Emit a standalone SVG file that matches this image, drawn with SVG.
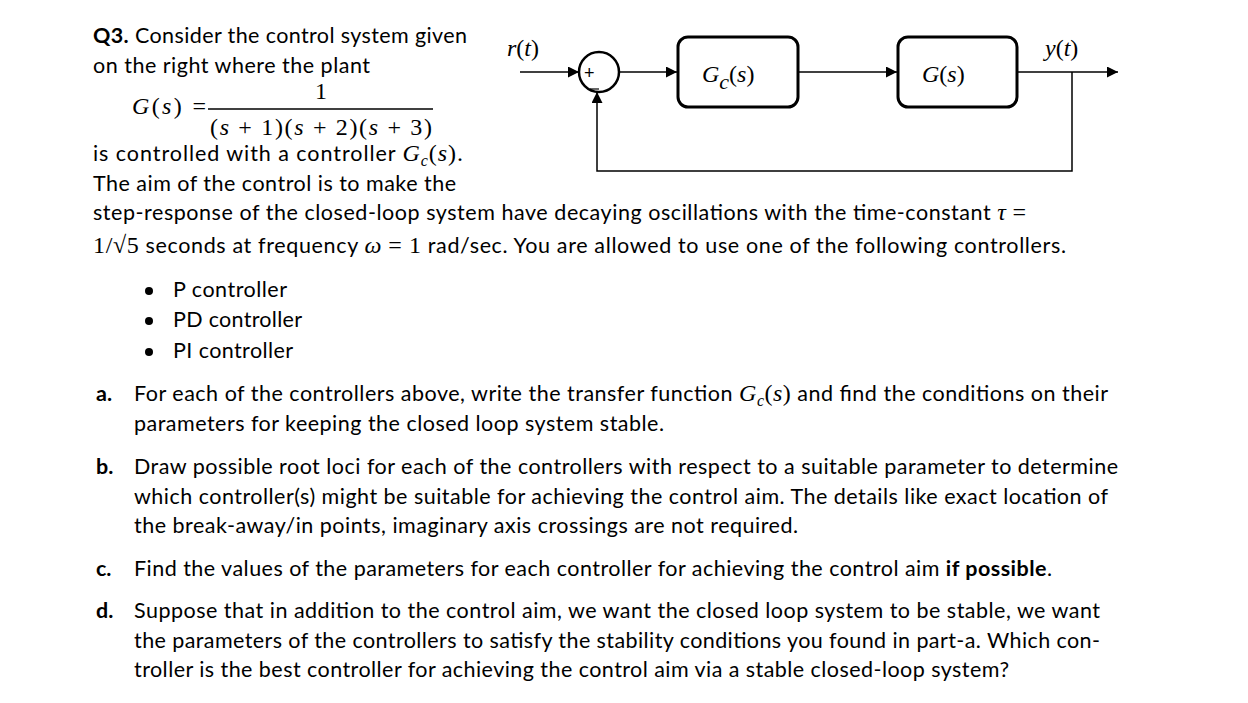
<svg xmlns="http://www.w3.org/2000/svg" width="1248" height="703" viewBox="0 0 1248 703">
<defs>
<style>
.t{font-family:Lato,"Open Sans","Liberation Sans",sans-serif;font-size:21.5px;fill:#000}
.m{font-family:"Liberation Serif","DejaVu Serif",serif;font-style:italic;font-size:24px;fill:#000}
.r{font-family:"Liberation Serif","DejaVu Serif",serif;font-size:24px;fill:#000}
.b{font-weight:bold}
.ln{stroke:#000;stroke-width:1.5;fill:none}
.box{stroke:#000;stroke-width:3;fill:#fff}
</style>
<marker id="ar" viewBox="0 0 10 10" refX="10" refY="5" markerWidth="11" markerHeight="11" markerUnits="userSpaceOnUse" orient="auto"><path d="M0,0L10,5L0,10z" fill="#000"/></marker>
</defs>
<rect width="1248" height="703" fill="#fff"/>
<g id="text">
<text class="t" x="93" y="43" textLength="374"><tspan class="b">Q3.</tspan> Consider the control system given</text>
<text class="t" x="93" y="73" textLength="277">on the right where the plant</text>
<text class="m" x="132" y="114" textLength="74">G<tspan font-style="normal">(</tspan>s<tspan font-style="normal">) =</tspan></text>
<text class="r" x="315" y="99">1</text>
<line x1="208" y1="109" x2="433" y2="109" stroke="#000" stroke-width="1.3"/>
<text class="r" x="210" y="135" textLength="222">(<tspan font-style="italic">s</tspan> + 1)(<tspan font-style="italic">s</tspan> + 2)(<tspan font-style="italic">s</tspan> + 3)</text>
<text class="t" x="93" y="161" textLength="370">is controlled with a controller <tspan class="m">G<tspan font-size="16" dy="5">c</tspan><tspan dy="-5" font-style="normal">(</tspan>s<tspan font-style="normal">).</tspan></tspan></text>
<text class="t" x="93" y="191" textLength="363">The aim of the control is to make the</text>
<text class="t" x="93" y="220" textLength="933">step-response of the closed-loop system have decaying oscillations with the time-constant <tspan class="m">τ</tspan> <tspan class="r">=</tspan></text>
<text class="t" x="93" y="253" textLength="973"><tspan class="r">1/√5</tspan> seconds at frequency <tspan class="m">ω</tspan> <tspan class="r">= 1</tspan> rad/sec. You are allowed to use one of the following controllers.</text>
<circle cx="149" cy="291" r="4"/><text class="t" x="173" y="297" textLength="114">P controller</text>
<circle cx="149" cy="321" r="4"/><text class="t" x="173" y="327" textLength="129">PD controller</text>
<circle cx="149" cy="352" r="4"/><text class="t" x="173" y="358" textLength="120">PI controller</text>
<text class="t b" x="96" y="401">a.</text>
<text class="t" x="134" y="401" textLength="974">For each of the controllers above, write the transfer function <tspan class="m">G<tspan font-size="16" dy="5">c</tspan><tspan dy="-5" font-style="normal">(</tspan>s<tspan font-style="normal">)</tspan></tspan> and find the conditions on their</text>
<text class="t" x="134" y="431" textLength="530">parameters for keeping the closed loop system stable.</text>
<text class="t b" x="96" y="474">b.</text>
<text class="t" x="134" y="474" textLength="984">Draw possible root loci for each of the controllers with respect to a suitable parameter to determine</text>
<text class="t" x="134" y="504" textLength="974">which controller(s) might be suitable for achieving the control aim. The details like exact location of</text>
<text class="t" x="134" y="533" textLength="664">the break-away/in points, imaginary axis crossings are not required.</text>
<text class="t b" x="96" y="576">c.</text>
<text class="t" x="134" y="576" textLength="918">Find the values of the parameters for each controller for achieving the control aim <tspan class="b">if possible</tspan>.</text>
<text class="t b" x="96" y="618">d.</text>
<text class="t" x="134" y="618" textLength="966">Suppose that in addition to the control aim, we want the closed loop system to be stable, we want</text>
<text class="t" x="134" y="648" textLength="966">the parameters of the controllers to satisfy the stability conditions you found in part-a. Which con-</text>
<text class="t" x="134" y="677" textLength="875">troller is the best controller for achieving the control aim via a stable closed-loop system?</text>
</g>
<g id="sum">
<circle cx="599" cy="72" r="20" fill="#fff" stroke="#000" stroke-width="2.5"/>
<text x="584" y="79" font-family="Liberation Sans,sans-serif" font-size="18">+</text>
<line x1="590" y1="89" x2="599" y2="89" stroke="#000" stroke-width="1.2"/>
</g>
<g id="Gc"><rect class="box" x="678" y="37" width="120" height="70" rx="10"/>
<text class="m" x="702" y="82" font-size="32">G<tspan font-size="22" dy="7">c</tspan><tspan dy="-7" font-style="normal">(</tspan>s<tspan font-style="normal">)</tspan></text></g>
<g id="G"><rect class="box" x="898" y="37" width="119" height="70" rx="10"/>
<text class="m" x="922" y="82" font-size="32">G<tspan font-style="normal">(</tspan>s<tspan font-style="normal">)</tspan></text></g>
<g id="labels">
<text class="m" x="507" y="56" font-size="26">r<tspan font-style="normal">(</tspan>t<tspan font-style="normal">)</tspan></text>
<text class="m" x="1045" y="56" font-size="26">y<tspan font-style="normal">(</tspan>t<tspan font-style="normal">)</tspan></text>
</g>
<g id="connectors">
<line class="ln" x1="520" y1="72" x2="579" y2="72" marker-end="url(#ar)"/>
<line class="ln" x1="619" y1="72" x2="677" y2="72" marker-end="url(#ar)"/>
<line class="ln" x1="799" y1="72" x2="897" y2="72" marker-end="url(#ar)"/>
<line class="ln" x1="1018" y1="72" x2="1118" y2="72" marker-end="url(#ar)"/>
<polyline class="ln" points="1072,72 1072,171 597,171 597,92" marker-end="url(#ar)"/>
</g>
</svg>
